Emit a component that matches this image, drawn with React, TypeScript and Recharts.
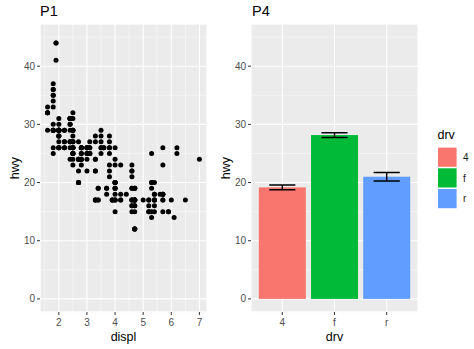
import React from 'react';
import {
  ScatterChart,
  Scatter,
  BarChart,
  Bar,
  Cell,
  XAxis,
  YAxis,
  CartesianGrid,
} from 'recharts';

// mpg: engine displacement vs highway mileage
const displ = [
  1.8, 1.8, 2.0, 2.0, 2.8, 2.8, 3.1, 1.8, 1.8, 2.0, 2.0, 2.8, 2.8, 3.1, 3.1, 2.8, 3.1, 4.2,
  5.3, 5.3, 5.3, 5.7, 6.0, 5.7, 5.7, 6.2, 6.2, 7.0, 5.3, 5.3, 5.7, 6.5, 2.4, 2.4, 3.1, 3.5, 3.6,
  2.4, 3.0, 3.3, 3.3, 3.3, 3.3, 3.3, 3.8, 3.8, 3.8, 4.0, 3.7, 3.7, 3.9, 3.9, 4.7, 4.7, 4.7, 5.2, 5.2,
  3.9, 4.7, 4.7, 4.7, 5.2, 5.7, 5.9, 4.7, 4.7, 4.7, 4.7, 4.7, 5.2, 5.2, 5.7, 5.9,
  4.6, 5.4, 5.4, 4.0, 4.0, 4.0, 4.0, 4.6, 4.6, 4.2, 4.2, 4.6, 4.6, 4.6, 5.4, 5.4,
  3.8, 3.8, 4.0, 4.0, 4.6, 4.6, 4.6, 4.6, 5.4, 1.6, 1.6, 1.6, 1.6, 1.6, 1.8, 1.8, 1.8, 2.0,
  2.4, 2.4, 2.4, 2.4, 2.5, 2.5, 3.3, 2.0, 2.0, 2.0, 2.7, 2.7, 2.7, 2.7,
  3.0, 3.7, 4.0, 4.7, 4.7, 4.7, 5.7, 6.1, 4.0, 4.2, 4.4, 4.6, 5.4, 5.4, 5.4, 4.0, 4.0, 4.6, 5.0,
  2.4, 2.4, 2.5, 2.5, 3.5, 3.5, 3.5, 3.0, 3.0, 3.5, 3.3, 3.3, 4.0, 5.6, 3.1, 3.8, 3.8, 3.8, 5.3,
  2.5, 2.5, 2.5, 2.5, 2.5, 2.5, 2.2, 2.2, 2.5, 2.5, 2.5, 2.5, 2.5, 2.5,
  2.7, 2.7, 3.4, 3.4, 4.0, 4.7, 2.2, 2.2, 2.4, 2.4, 3.0, 3.0, 3.5, 2.2, 2.2, 2.4, 2.4, 3.0, 3.0, 3.3,
  1.8, 1.8, 1.8, 1.8, 1.8, 4.7, 5.7, 2.7, 2.7, 2.7, 3.4, 3.4, 4.0, 4.0,
  2.0, 2.0, 2.0, 2.0, 2.8, 1.9, 2.0, 2.0, 2.0, 2.0, 2.5, 2.5, 2.8, 2.8,
  1.9, 1.9, 2.0, 2.0, 2.5, 2.5, 1.8, 1.8, 2.0, 2.0, 2.8, 2.8, 3.6,
];
const hwy = [
  29, 29, 31, 30, 26, 26, 27, 26, 25, 28, 27, 25, 25, 25, 25, 24, 25, 23,
  20, 15, 20, 17, 17, 26, 23, 26, 25, 24, 19, 14, 15, 17, 27, 30, 26, 29, 26,
  24, 24, 22, 22, 24, 24, 17, 22, 21, 23, 23, 19, 18, 17, 17, 19, 19, 12, 17, 15,
  17, 17, 12, 17, 16, 18, 15, 16, 12, 17, 17, 16, 15, 17, 17, 15,
  17, 17, 18, 17, 19, 17, 19, 19, 17, 17, 17, 16, 16, 17, 15, 17,
  26, 25, 26, 24, 21, 22, 23, 22, 20, 33, 32, 32, 29, 32, 34, 36, 36, 29,
  26, 27, 30, 31, 26, 26, 28, 26, 29, 28, 27, 24, 24, 24,
  22, 19, 20, 17, 12, 19, 18, 14, 15, 18, 18, 15, 17, 16, 18, 17, 19, 19, 17,
  29, 27, 31, 32, 27, 26, 26, 25, 25, 25, 17, 17, 20, 18, 26, 26, 27, 28, 25,
  25, 24, 27, 25, 26, 23, 26, 26, 26, 26, 25, 27, 25, 27,
  20, 20, 19, 17, 20, 17, 29, 27, 31, 31, 26, 26, 28, 27, 29, 31, 31, 26, 26, 27,
  30, 33, 35, 37, 35, 15, 18, 20, 20, 22, 17, 19, 18, 20,
  29, 26, 29, 29, 24, 44, 29, 26, 29, 29, 29, 29, 23, 24,
  44, 41, 29, 26, 28, 29, 29, 29, 28, 29, 26, 26, 26,
];

// mean hwy by drive type, with standard error
const drvLevels = ['4', 'f', 'r'];
const hwyMean = [19.17, 28.16, 21.0];
const hwySe = [0.4, 0.41, 0.73];
const drvColors = ['#F8766D', '#00BA38', '#619CFF'];

const yTicks = [0, 10, 20, 30, 40];
const yMinorTicks = [5, 15, 25, 35, 45];
const xTicks = [2, 3, 4, 5, 6, 7];
const xMinorTicks = [1.5, 2.5, 3.5, 4.5, 5.5, 6.5];

const FONT = '"Liberation Sans", Arial, sans-serif';
const yDomain: [number, number] = [-2.25, 47.25];
const xDomain: [number, number] = [1.33, 7.27];

const tickStyle = { fill: '#4D4D4D', fontSize: 10, fontFamily: FONT };
const tickLine = { stroke: '#333333', strokeWidth: 1 };

const points = displ.map((d, i) => ({ displ: d, hwy: hwy[i] }));
const barData = drvLevels.map((d, i) => ({ drv: d, hwy: hwyMean[i], se: hwySe[i] }));

const Dot = (props: any) => <circle cx={props.cx} cy={props.cy} r={2.5} fill="#000" />;

// bar + error bar; the pixel scale comes from the bar's own height / value
const BarWithError = (props: any) => {
  const { x, y, width, height, fill, payload } = props;
  const pxPerUnit = height / payload.hwy;
  const cx = x + width / 2;
  const hi = y - payload.se * pxPerUnit;
  const lo = y + payload.se * pxPerUnit;
  const half = width * (0.25 / 0.9);
  return (
    <g>
      <rect x={x} y={y} width={width} height={height} fill={fill} />
      <g stroke="#000" strokeWidth={1.4}>
        <line x1={cx - half} x2={cx + half} y1={hi} y2={hi} />
        <line x1={cx - half} x2={cx + half} y1={lo} y2={lo} />
        <line x1={cx} x2={cx} y1={hi} y2={lo} />
      </g>
    </g>
  );
};

export default function App() {
  return (
    <div style={{ position: 'absolute', left: 0, top: 0, width: 474, height: 349, background: '#fff', fontFamily: FONT }}>
      <div style={{ position: 'absolute', left: 0, top: 0 }}>
        <ScatterChart width={207} height={349} margin={{ top: 24, right: 0, bottom: 0, left: 0 }}>
          <XAxis xAxisId="minor" type="number" dataKey="displ" domain={xDomain} ticks={xMinorTicks} hide allowDataOverflow />
          <YAxis yAxisId="minor" type="number" dataKey="hwy" domain={yDomain} ticks={yMinorTicks} hide allowDataOverflow />
          <CartesianGrid xAxisId="minor" yAxisId="minor" fill="#EBEBEB" fillOpacity={1} stroke="#F6F6F6" strokeWidth={0.8} />
          <CartesianGrid stroke="#FFFFFF" strokeWidth={1.1} />
          <XAxis
            type="number"
            dataKey="displ"
            domain={xDomain}
            ticks={xTicks}
            allowDataOverflow
            height={37}
            axisLine={false}
            tickSize={3}
            tickMargin={4}
            tickLine={tickLine}
            tick={tickStyle}
          />
          <YAxis
            type="number"
            dataKey="hwy"
            domain={yDomain}
            ticks={yTicks}
            allowDataOverflow
            width={40}
            axisLine={false}
            tickSize={3}
            tickMargin={2}
            tickLine={tickLine}
            tick={tickStyle}
          />
          <Scatter data={points} shape={Dot} isAnimationActive={false} />
        </ScatterChart>
      </div>
      <div style={{ position: 'absolute', left: 211, top: 0 }}>
        <BarChart width={207} height={349} data={barData} margin={{ top: 24, right: 0, bottom: 0, left: 0 }} barCategoryGap="5%">
          <YAxis yAxisId="minor" type="number" domain={yDomain} ticks={yMinorTicks} hide allowDataOverflow />
          <CartesianGrid yAxisId="minor" vertical={false} fill="#EBEBEB" fillOpacity={1} stroke="#F6F6F6" strokeWidth={0.8} />
          <CartesianGrid stroke="#FFFFFF" strokeWidth={1.1} />
          <XAxis
            dataKey="drv"
            padding={{ left: 5.2, right: 5.2 }}
            height={37}
            axisLine={false}
            tickSize={3}
            tickMargin={4}
            tickLine={tickLine}
            tick={tickStyle}
          />
          <YAxis
            type="number"
            domain={yDomain}
            ticks={yTicks}
            allowDataOverflow
            width={40}
            axisLine={false}
            tickSize={3}
            tickMargin={2}
            tickLine={tickLine}
            tick={tickStyle}
          />
          <Bar dataKey="hwy" shape={BarWithError} isAnimationActive={false}>
            {barData.map((d, i) => (
              <Cell key={d.drv} fill={drvColors[i]} />
            ))}
          </Bar>
        </BarChart>
      </div>
      <svg width={474} height={349} style={{ position: 'absolute', left: 0, top: 0, pointerEvents: 'none' }}>
        <text x={40} y={15.5} fontSize={14.5} fill="#000">P1</text>
        <text x={252} y={15.5} fontSize={14.5} fill="#000">P4</text>
        <text x={123.5} y={341} fontSize={12.5} textAnchor="middle" fill="#000">displ</text>
        <text x={334.5} y={341} fontSize={12.5} textAnchor="middle" fill="#000">drv</text>
        <text x={18.5} y={168} fontSize={12.5} textAnchor="middle" fill="#000" transform="rotate(-90 18.5 168)">hwy</text>
        <text x={229.5} y={168} fontSize={12.5} textAnchor="middle" fill="#000" transform="rotate(-90 229.5 168)">hwy</text>
        <text x={437.5} y={139.3} fontSize={12.5} fill="#000">drv</text>
        {drvLevels.map((d, i) => (
          <g key={d}>
            <rect x={438} y={147.6 + i * 20.7} width={18.6} height={19.2} fill={drvColors[i]} />
            <text x={463} y={157.2 + i * 20.7} dy="0.36em" fontSize={10} fill="#1A1A1A">{d}</text>
          </g>
        ))}
      </svg>
    </div>
  );
}
